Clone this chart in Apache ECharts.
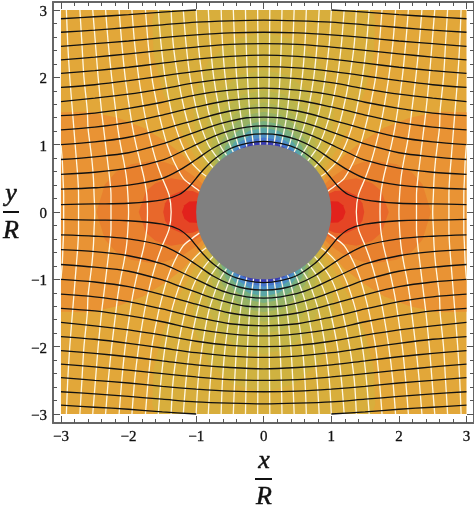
<!DOCTYPE html>
<html>
<head>
<meta charset="utf-8">
<script src="https://cdn.jsdelivr.net/npm/echarts@6/dist/echarts.min.js"></script>
<style>html,body{margin:0;padding:0;background:#fff}#main{width:474px;height:506px}#main canvas{filter:blur(0.4px)}</style>
</head>
<body>
<div id="main"></div>
<script>
// tick marks
var majorTicks = [-3, -2, -1, 0, 1, 2, 3];
var minorTicks = [-2.8, -2.6, -2.4, -2.2, -1.8, -1.6, -1.4, -1.2, -0.8, -0.6, -0.4, -0.2, 0.2, 0.4, 0.6, 0.8, 1.2, 1.4, 1.6, 1.8, 2.2, 2.4, 2.6, 2.8];

// black lines, y read at these x stations
var blackX = [-3, -2.5, -2, -1.5, -1, -0.5, 0, 0.5, 1, 1.5, 2, 2.5, 3];
var blackRows = [
  [2.87, 2.90, 2.93, 2.97, 3.00, null, null, null, 3.00, 2.97, 2.93, 2.90, 2.87],
  [2.67, 2.70, 2.74, 2.78, 2.82, 2.84, 2.85, 2.84, 2.82, 2.78, 2.74, 2.70, 2.67],
  [2.46, 2.50, 2.54, 2.59, 2.63, 2.66, 2.67, 2.66, 2.63, 2.59, 2.54, 2.50, 2.46],
  [2.26, 2.30, 2.35, 2.40, 2.45, 2.49, 2.50, 2.49, 2.45, 2.40, 2.35, 2.30, 2.26],
  [2.06, 2.10, 2.15, 2.21, 2.27, 2.31, 2.33, 2.31, 2.27, 2.21, 2.15, 2.10, 2.06],
  [1.85, 1.89, 1.95, 2.02, 2.09, 2.14, 2.16, 2.14, 2.09, 2.02, 1.95, 1.89, 1.85],
  [1.64, 1.69, 1.75, 1.83, 1.92, 1.98, 2.00, 1.98, 1.92, 1.83, 1.75, 1.69, 1.64],
  [1.43, 1.47, 1.54, 1.63, 1.74, 1.81, 1.84, 1.81, 1.74, 1.63, 1.54, 1.47, 1.43],
  [1.22, 1.26, 1.33, 1.44, 1.56, 1.66, 1.69, 1.66, 1.56, 1.44, 1.33, 1.26, 1.22],
  [1.00, 1.04, 1.11, 1.23, 1.37, 1.50, 1.55, 1.50, 1.37, 1.23, 1.11, 1.04, 1.00],
  [-2.87, -2.90, -2.93, -2.97, -3.00, null, null, null, -3.00, -2.97, -2.93, -2.90, -2.87],
  [-2.67, -2.70, -2.74, -2.78, -2.82, -2.84, -2.85, -2.84, -2.82, -2.78, -2.74, -2.70, -2.67],
  [-2.46, -2.50, -2.54, -2.59, -2.63, -2.66, -2.67, -2.66, -2.63, -2.59, -2.54, -2.50, -2.46],
  [-2.26, -2.30, -2.35, -2.40, -2.45, -2.49, -2.50, -2.49, -2.45, -2.40, -2.35, -2.30, -2.26],
  [-2.06, -2.10, -2.15, -2.21, -2.27, -2.31, -2.33, -2.31, -2.27, -2.21, -2.15, -2.10, -2.06],
  [-1.85, -1.89, -1.95, -2.02, -2.09, -2.14, -2.16, -2.14, -2.09, -2.02, -1.95, -1.89, -1.85],
  [-1.64, -1.69, -1.75, -1.83, -1.92, -1.98, -2.00, -1.98, -1.92, -1.83, -1.75, -1.69, -1.64],
  [-1.43, -1.47, -1.54, -1.63, -1.74, -1.81, -1.84, -1.81, -1.74, -1.63, -1.54, -1.47, -1.43],
  [-1.22, -1.26, -1.33, -1.44, -1.56, -1.66, -1.69, -1.66, -1.56, -1.44, -1.33, -1.26, -1.22],
  [-1.00, -1.04, -1.11, -1.23, -1.37, -1.50, -1.55, -1.50, -1.37, -1.23, -1.11, -1.04, -1.00]
];
// the lines closer to the axis bend harder, so more stations
var blackNearX = [-3, -2.5, -2, -1.5, -1.25, -1, -0.75, -0.5, -0.25, 0, 0.25, 0.5, 0.75, 1, 1.25, 1.5, 2, 2.5, 3];
var blackNearRows = [
  [0.78, 0.82, 0.88, 1.01, 1.10, 1.19, 1.28, 1.35, 1.40, 1.41, 1.40, 1.35, 1.28, 1.19, 1.10, 1.01, 0.88, 0.82, 0.78],
  [0.56, 0.59, 0.65, 0.77, 0.88, 1.00, 1.12, 1.21, 1.26, 1.28, 1.26, 1.21, 1.12, 1.00, 0.88, 0.77, 0.65, 0.59, 0.56],
  [0.34, 0.36, 0.40, 0.50, 0.62, 0.78, 0.95, 1.07, 1.14, 1.16, 1.14, 1.07, 0.95, 0.78, 0.62, 0.50, 0.40, 0.36, 0.34],
  [-0.78, -0.82, -0.88, -1.01, -1.10, -1.19, -1.28, -1.35, -1.40, -1.41, -1.40, -1.35, -1.28, -1.19, -1.10, -1.01, -0.88, -0.82, -0.78],
  [-0.56, -0.59, -0.65, -0.77, -0.88, -1.00, -1.12, -1.21, -1.26, -1.28, -1.26, -1.21, -1.12, -1.00, -0.88, -0.77, -0.65, -0.59, -0.56],
  [-0.34, -0.36, -0.40, -0.50, -0.62, -0.78, -0.95, -1.07, -1.14, -1.16, -1.14, -1.07, -0.95, -0.78, -0.62, -0.50, -0.40, -0.36, -0.34]
];
var blackHugX = [-3, -2.5, -2, -1.5, -1.25, -1.1, -1, -0.9, -0.75, -0.5, -0.25, 0, 0.25, 0.5, 0.75, 0.9, 1, 1.1, 1.25, 1.5, 2, 2.5, 3];
var blackHugRows = [
  [0.11, 0.12, 0.13, 0.18, 0.26, 0.38, 0.50, 0.62, 0.77, 0.94, 1.02, 1.05, 1.02, 0.94, 0.77, 0.62, 0.50, 0.38, 0.26, 0.18, 0.13, 0.12, 0.11],
  [-0.11, -0.12, -0.13, -0.18, -0.26, -0.38, -0.50, -0.62, -0.77, -0.94, -1.02, -1.05, -1.02, -0.94, -0.77, -0.62, -0.50, -0.38, -0.26, -0.18, -0.13, -0.12, -0.11]
];

// white lines that pass the cylinder, x read at these y stations
var whiteY = [3, 2.5, 2, 1.5, 1.25, 1, 0.75, 0.5, 0.25, 0, -0.25, -0.5, -0.75, -1, -1.25, -1.5, -2, -2.5, -3];
var whiteRows = [
  [1.95, 1.91, 1.85, 1.77, 1.72, 1.66, 1.59, 1.50, 1.40, 1.37, 1.40, 1.50, 1.59, 1.66, 1.72, 1.77, 1.85, 1.91, 1.95],
  [2.14, 2.10, 2.05, 1.98, 1.94, 1.89, 1.83, 1.77, 1.73, 1.72, 1.73, 1.77, 1.83, 1.89, 1.94, 1.98, 2.05, 2.10, 2.14],
  [2.34, 2.30, 2.25, 2.19, 2.16, 2.12, 2.07, 2.03, 2.01, 2.00, 2.01, 2.03, 2.07, 2.12, 2.16, 2.19, 2.25, 2.30, 2.34],
  [2.53, 2.49, 2.45, 2.40, 2.37, 2.34, 2.31, 2.28, 2.26, 2.26, 2.26, 2.28, 2.31, 2.34, 2.37, 2.40, 2.45, 2.49, 2.53],
  [2.72, 2.69, 2.66, 2.61, 2.60, 2.57, 2.54, 2.52, 2.51, 2.50, 2.51, 2.52, 2.54, 2.57, 2.60, 2.61, 2.66, 2.69, 2.72],
  [2.92, 2.90, 2.87, 2.83, 2.81, 2.79, 2.77, 2.75, 2.74, 2.74, 2.74, 2.75, 2.77, 2.79, 2.81, 2.83, 2.87, 2.90, 2.92],
  [null, null, null, null, null, 3.00, 2.98, 2.97, 2.96, 2.96, 2.96, 2.97, 2.98, 3.00, null, null, null, null, null],
  [-1.95, -1.91, -1.85, -1.77, -1.72, -1.66, -1.59, -1.50, -1.40, -1.37, -1.40, -1.50, -1.59, -1.66, -1.72, -1.77, -1.85, -1.91, -1.95],
  [-2.14, -2.10, -2.05, -1.98, -1.94, -1.89, -1.83, -1.77, -1.73, -1.72, -1.73, -1.77, -1.83, -1.89, -1.94, -1.98, -2.05, -2.10, -2.14],
  [-2.34, -2.30, -2.25, -2.19, -2.16, -2.12, -2.07, -2.03, -2.01, -2.00, -2.01, -2.03, -2.07, -2.12, -2.16, -2.19, -2.25, -2.30, -2.34],
  [-2.53, -2.49, -2.45, -2.40, -2.37, -2.34, -2.31, -2.28, -2.26, -2.26, -2.26, -2.28, -2.31, -2.34, -2.37, -2.40, -2.45, -2.49, -2.53],
  [-2.72, -2.69, -2.66, -2.61, -2.60, -2.57, -2.54, -2.52, -2.51, -2.50, -2.51, -2.52, -2.54, -2.57, -2.60, -2.61, -2.66, -2.69, -2.72],
  [-2.92, -2.90, -2.87, -2.83, -2.81, -2.79, -2.77, -2.75, -2.74, -2.74, -2.74, -2.75, -2.77, -2.79, -2.81, -2.83, -2.87, -2.90, -2.92],
  [null, null, null, null, null, -3.00, -2.98, -2.97, -2.96, -2.96, -2.96, -2.97, -2.98, -3.00, null, null, null, null, null]
];

// white lines that stop on the cylinder, as [x, y] runs per quadrant
var whiteTopRight = [
  [[0.09, 3], [0.08, 2], [0.07, 1.5], [0.06, 1.25], [0.05, 1]],
  [[0.27, 3], [0.26, 2.5], [0.24, 2], [0.21, 1.5], [0.185, 1.25], [0.15, 0.99]],
  [[0.45, 3], [0.43, 2.5], [0.40, 2], [0.35, 1.5], [0.31, 1.25], [0.25, 0.97]],
  [[0.63, 3], [0.61, 2.5], [0.57, 2], [0.50, 1.5], [0.445, 1.25], [0.38, 1], [0.35, 0.94]],
  [[0.82, 3], [0.79, 2.5], [0.74, 2], [0.655, 1.5], [0.59, 1.25], [0.50, 1], [0.45, 0.89]],
  [[1.00, 3], [0.97, 2.5], [0.91, 2], [0.82, 1.5], [0.745, 1.25], [0.65, 1], [0.55, 0.84]],
  [[1.19, 3], [1.15, 2.5], [1.09, 2], [0.99, 1.5], [0.92, 1.25], [0.82, 1], [0.72, 0.85], [0.65, 0.76]],
  [[1.37, 3], [1.34, 2.5], [1.27, 2], [1.17, 1.5], [1.10, 1.25], [1.00, 1], [0.87, 0.8], [0.75, 0.66]],
  [[1.56, 3], [1.52, 2.5], [1.46, 2], [1.37, 1.5], [1.30, 1.25], [1.21, 1], [1.08, 0.75], [0.94, 0.6], [0.85, 0.53]],
  [[1.75, 3], [1.71, 2.5], [1.655, 2], [1.56, 1.5], [1.50, 1.25], [1.43, 1], [1.33, 0.75], [1.19, 0.5], [1.07, 0.4], [0.95, 0.31]]
];
var whiteTopLeft = [
  [[-0.09, 3], [-0.08, 2], [-0.07, 1.5], [-0.06, 1.25], [-0.05, 1]],
  [[-0.27, 3], [-0.26, 2.5], [-0.24, 2], [-0.21, 1.5], [-0.185, 1.25], [-0.15, 0.99]],
  [[-0.45, 3], [-0.43, 2.5], [-0.40, 2], [-0.35, 1.5], [-0.31, 1.25], [-0.25, 0.97]],
  [[-0.63, 3], [-0.61, 2.5], [-0.57, 2], [-0.50, 1.5], [-0.445, 1.25], [-0.38, 1], [-0.35, 0.94]],
  [[-0.82, 3], [-0.79, 2.5], [-0.74, 2], [-0.655, 1.5], [-0.59, 1.25], [-0.50, 1], [-0.45, 0.89]],
  [[-1.00, 3], [-0.97, 2.5], [-0.91, 2], [-0.82, 1.5], [-0.745, 1.25], [-0.65, 1], [-0.55, 0.84]],
  [[-1.19, 3], [-1.15, 2.5], [-1.09, 2], [-0.99, 1.5], [-0.92, 1.25], [-0.82, 1], [-0.72, 0.85], [-0.65, 0.76]],
  [[-1.37, 3], [-1.34, 2.5], [-1.27, 2], [-1.17, 1.5], [-1.10, 1.25], [-1.00, 1], [-0.87, 0.8], [-0.75, 0.66]],
  [[-1.56, 3], [-1.52, 2.5], [-1.46, 2], [-1.37, 1.5], [-1.30, 1.25], [-1.21, 1], [-1.08, 0.75], [-0.94, 0.6], [-0.85, 0.53]],
  [[-1.75, 3], [-1.71, 2.5], [-1.655, 2], [-1.56, 1.5], [-1.50, 1.25], [-1.43, 1], [-1.33, 0.75], [-1.19, 0.5], [-1.07, 0.4], [-0.95, 0.31]]
];
var whiteBottomRight = [
  [[0.09, -3], [0.08, -2], [0.07, -1.5], [0.06, -1.25], [0.05, -1]],
  [[0.27, -3], [0.26, -2.5], [0.24, -2], [0.21, -1.5], [0.185, -1.25], [0.15, -0.99]],
  [[0.45, -3], [0.43, -2.5], [0.40, -2], [0.35, -1.5], [0.31, -1.25], [0.25, -0.97]],
  [[0.63, -3], [0.61, -2.5], [0.57, -2], [0.50, -1.5], [0.445, -1.25], [0.38, -1], [0.35, -0.94]],
  [[0.82, -3], [0.79, -2.5], [0.74, -2], [0.655, -1.5], [0.59, -1.25], [0.50, -1], [0.45, -0.89]],
  [[1.00, -3], [0.97, -2.5], [0.91, -2], [0.82, -1.5], [0.745, -1.25], [0.65, -1], [0.55, -0.84]],
  [[1.19, -3], [1.15, -2.5], [1.09, -2], [0.99, -1.5], [0.92, -1.25], [0.82, -1], [0.72, -0.85], [0.65, -0.76]],
  [[1.37, -3], [1.34, -2.5], [1.27, -2], [1.17, -1.5], [1.10, -1.25], [1.00, -1], [0.87, -0.8], [0.75, -0.66]],
  [[1.56, -3], [1.52, -2.5], [1.46, -2], [1.37, -1.5], [1.30, -1.25], [1.21, -1], [1.08, -0.75], [0.94, -0.6], [0.85, -0.53]],
  [[1.75, -3], [1.71, -2.5], [1.655, -2], [1.56, -1.5], [1.50, -1.25], [1.43, -1], [1.33, -0.75], [1.19, -0.5], [1.07, -0.4], [0.95, -0.31]]
];
var whiteBottomLeft = [
  [[-0.09, -3], [-0.08, -2], [-0.07, -1.5], [-0.06, -1.25], [-0.05, -1]],
  [[-0.27, -3], [-0.26, -2.5], [-0.24, -2], [-0.21, -1.5], [-0.185, -1.25], [-0.15, -0.99]],
  [[-0.45, -3], [-0.43, -2.5], [-0.40, -2], [-0.35, -1.5], [-0.31, -1.25], [-0.25, -0.97]],
  [[-0.63, -3], [-0.61, -2.5], [-0.57, -2], [-0.50, -1.5], [-0.445, -1.25], [-0.38, -1], [-0.35, -0.94]],
  [[-0.82, -3], [-0.79, -2.5], [-0.74, -2], [-0.655, -1.5], [-0.59, -1.25], [-0.50, -1], [-0.45, -0.89]],
  [[-1.00, -3], [-0.97, -2.5], [-0.91, -2], [-0.82, -1.5], [-0.745, -1.25], [-0.65, -1], [-0.55, -0.84]],
  [[-1.19, -3], [-1.15, -2.5], [-1.09, -2], [-0.99, -1.5], [-0.92, -1.25], [-0.82, -1], [-0.72, -0.85], [-0.65, -0.76]],
  [[-1.37, -3], [-1.34, -2.5], [-1.27, -2], [-1.17, -1.5], [-1.10, -1.25], [-1.00, -1], [-0.87, -0.8], [-0.75, -0.66]],
  [[-1.56, -3], [-1.52, -2.5], [-1.46, -2], [-1.37, -1.5], [-1.30, -1.25], [-1.21, -1], [-1.08, -0.75], [-0.94, -0.6], [-0.85, -0.53]],
  [[-1.75, -3], [-1.71, -2.5], [-1.655, -2], [-1.56, -1.5], [-1.50, -1.25], [-1.43, -1], [-1.33, -0.75], [-1.19, -0.5], [-1.07, -0.4], [-0.95, -0.31]]
];

// filled bands, outlines in axis units, painted in this order
var bandField = [[-3, -3], [3, -3], [3, 3], [-3, 3]];
var bandsTop = [
  [[-0.85, 0.53], [-0.91, 0.64], [-1.05, 0.88], [-1.26, 1.26], [-1.49, 1.77], [-1.63, 2.33], [-1.65, 2.86], [-1.6, 3], [1.6, 3], [1.65, 2.86], [1.63, 2.33], [1.49, 1.77], [1.26, 1.26], [1.05, 0.88], [0.91, 0.64], [0.85, 0.53]],
  [[-0.82, 0.57], [-0.885, 0.74], [-0.955, 0.955], [-1.016, 1.21], [-1.04, 1.49], [-1.017, 1.76], [-0.815, 2.24], [-0.45, 2.56], [0, 2.67], [0.45, 2.56], [0.815, 2.24], [1.017, 1.76], [1.04, 1.49], [1.016, 1.21], [0.955, 0.955], [0.885, 0.74], [0.82, 0.57]],
  [[-0.79, 0.61], [-0.84, 0.84], [-0.863, 1.03], [-0.826, 1.43], [-0.65, 1.79], [-0.358, 2.03], [0, 2.11], [0.358, 2.03], [0.65, 1.79], [0.826, 1.43], [0.863, 1.03], [0.84, 0.84], [0.79, 0.61]],
  [[-0.76, 0.65], [-0.773, 0.773], [-0.78, 0.93], [-0.726, 1.257], [-0.563, 1.548], [-0.308, 1.746], [0, 1.81], [0.308, 1.746], [0.563, 1.548], [0.726, 1.257], [0.78, 0.93], [0.773, 0.773], [0.76, 0.65]],
  [[-0.724, 0.69], [-0.723, 0.862], [-0.661, 1.145], [-0.508, 1.396], [-0.276, 1.566], [0, 1.63], [0.276, 1.566], [0.508, 1.396], [0.661, 1.145], [0.723, 0.862], [0.724, 0.69]],
  [[-0.69, 0.724], [-0.681, 0.812], [-0.615, 1.064], [-0.469, 1.287], [-0.254, 1.441], [0, 1.49], [0.254, 1.441], [0.469, 1.287], [0.615, 1.064], [0.681, 0.812], [0.69, 0.724]],
  [[-0.632, 0.775], [-0.564, 0.977], [-0.426, 1.171], [-0.23, 1.303], [0, 1.35], [0.23, 1.303], [0.426, 1.171], [0.564, 0.977], [0.632, 0.775]],
  [[-0.571, 0.821], [-0.528, 0.915], [-0.396, 1.088], [-0.213, 1.206], [0, 1.25], [0.213, 1.206], [0.396, 1.088], [0.528, 0.915], [0.571, 0.821]],
  [[-0.5, 0.866], [-0.373, 1.024], [-0.2, 1.131], [0, 1.17], [0.2, 1.131], [0.373, 1.024], [0.5, 0.866]],
  [[-0.42, 0.908], [-0.354, 0.973], [-0.189, 1.072], [0, 1.106], [0.189, 1.072], [0.354, 0.973], [0.42, 0.908]],
  [[-0.316, 0.949], [-0.18, 1.023], [0, 1.056], [0.18, 1.023], [0.316, 0.949]]
];
var bandsBottom = [
  [[-0.85, -0.53], [-0.91, -0.64], [-1.05, -0.88], [-1.26, -1.26], [-1.49, -1.77], [-1.63, -2.33], [-1.65, -2.86], [-1.6, -3], [1.6, -3], [1.65, -2.86], [1.63, -2.33], [1.49, -1.77], [1.26, -1.26], [1.05, -0.88], [0.91, -0.64], [0.85, -0.53]],
  [[-0.82, -0.57], [-0.885, -0.74], [-0.955, -0.955], [-1.016, -1.21], [-1.04, -1.49], [-1.017, -1.76], [-0.815, -2.24], [-0.45, -2.56], [0, -2.67], [0.45, -2.56], [0.815, -2.24], [1.017, -1.76], [1.04, -1.49], [1.016, -1.21], [0.955, -0.955], [0.885, -0.74], [0.82, -0.57]],
  [[-0.79, -0.61], [-0.84, -0.84], [-0.863, -1.03], [-0.826, -1.43], [-0.65, -1.79], [-0.358, -2.03], [0, -2.11], [0.358, -2.03], [0.65, -1.79], [0.826, -1.43], [0.863, -1.03], [0.84, -0.84], [0.79, -0.61]],
  [[-0.76, -0.65], [-0.773, -0.773], [-0.78, -0.93], [-0.726, -1.257], [-0.563, -1.548], [-0.308, -1.746], [0, -1.81], [0.308, -1.746], [0.563, -1.548], [0.726, -1.257], [0.78, -0.93], [0.773, -0.773], [0.76, -0.65]],
  [[-0.724, -0.69], [-0.723, -0.862], [-0.661, -1.145], [-0.508, -1.396], [-0.276, -1.566], [0, -1.63], [0.276, -1.566], [0.508, -1.396], [0.661, -1.145], [0.723, -0.862], [0.724, -0.69]],
  [[-0.69, -0.724], [-0.681, -0.812], [-0.615, -1.064], [-0.469, -1.287], [-0.254, -1.441], [0, -1.49], [0.254, -1.441], [0.469, -1.287], [0.615, -1.064], [0.681, -0.812], [0.69, -0.724]],
  [[-0.632, -0.775], [-0.564, -0.977], [-0.426, -1.171], [-0.23, -1.303], [0, -1.35], [0.23, -1.303], [0.426, -1.171], [0.564, -0.977], [0.632, -0.775]],
  [[-0.571, -0.821], [-0.528, -0.915], [-0.396, -1.088], [-0.213, -1.206], [0, -1.25], [0.213, -1.206], [0.396, -1.088], [0.528, -0.915], [0.571, -0.821]],
  [[-0.5, -0.866], [-0.373, -1.024], [-0.2, -1.131], [0, -1.17], [0.2, -1.131], [0.373, -1.024], [0.5, -0.866]],
  [[-0.42, -0.908], [-0.354, -0.973], [-0.189, -1.072], [0, -1.106], [0.189, -1.072], [0.354, -0.973], [0.42, -0.908]],
  [[-0.316, -0.949], [-0.18, -1.023], [0, -1.056], [0.18, -1.023], [0.316, -0.949]]
];
var bandsRight = [
  [[3, 1.48], [2.58, 1.49], [2.16, 1.40], [1.78, 1.25], [1.44, 1.04], [1.19, 0.84], [0.92, 0.53], [0.88, 0.47], [0.88, -0.47], [0.92, -0.53], [1.19, -0.84], [1.44, -1.04], [1.78, -1.25], [2.16, -1.40], [2.58, -1.49], [3, -1.48]],
  [[0.91, 0.42], [1.00, 0.51], [1.19, 0.64], [1.46, 0.74], [1.64, 0.76], [1.96, 0.71], [2.19, 0.59], [2.35, 0.41], [2.475, 0], [2.35, -0.41], [2.19, -0.59], [1.96, -0.71], [1.64, -0.76], [1.46, -0.74], [1.19, -0.64], [1.00, -0.51], [0.91, -0.42]],
  [[0.935, 0.353], [1.10, 0.455], [1.37, 0.50], [1.60, 0.43], [1.74, 0.31], [1.85, 0], [1.74, -0.31], [1.60, -0.43], [1.37, -0.50], [1.10, -0.455], [0.935, -0.353]],
  [[0.96, 0.27], [1.05, 0.31], [1.205, 0.32], [1.38, 0.24], [1.46, 0.13], [1.487, 0], [1.46, -0.13], [1.38, -0.24], [1.205, -0.32], [1.05, -0.31], [0.96, -0.27]],
  [[0.987, 0.158], [1.10, 0.155], [1.174, 0.10], [1.21, 0], [1.174, -0.10], [1.10, -0.155], [0.987, -0.158]]
];
var bandsLeft = [
  [[-3, 1.48], [-2.58, 1.49], [-2.16, 1.40], [-1.78, 1.25], [-1.44, 1.04], [-1.19, 0.84], [-0.92, 0.53], [-0.88, 0.47], [-0.88, -0.47], [-0.92, -0.53], [-1.19, -0.84], [-1.44, -1.04], [-1.78, -1.25], [-2.16, -1.40], [-2.58, -1.49], [-3, -1.48]],
  [[-0.91, 0.42], [-1.00, 0.51], [-1.19, 0.64], [-1.46, 0.74], [-1.64, 0.76], [-1.96, 0.71], [-2.19, 0.59], [-2.35, 0.41], [-2.475, 0], [-2.35, -0.41], [-2.19, -0.59], [-1.96, -0.71], [-1.64, -0.76], [-1.46, -0.74], [-1.19, -0.64], [-1.00, -0.51], [-0.91, -0.42]],
  [[-0.935, 0.353], [-1.10, 0.455], [-1.37, 0.50], [-1.60, 0.43], [-1.74, 0.31], [-1.85, 0], [-1.74, -0.31], [-1.60, -0.43], [-1.37, -0.50], [-1.10, -0.455], [-0.935, -0.353]],
  [[-0.96, 0.27], [-1.05, 0.31], [-1.205, 0.32], [-1.38, 0.24], [-1.46, 0.13], [-1.487, 0], [-1.46, -0.13], [-1.38, -0.24], [-1.205, -0.32], [-1.05, -0.31], [-0.96, -0.27]],
  [[-0.987, 0.158], [-1.10, 0.155], [-1.174, 0.10], [-1.21, 0], [-1.174, -0.10], [-1.10, -0.155], [-0.987, -0.158]]
];
var cylinderRadius = 1;

var fieldColor = '#e2a739';
var topColors = ['#d8ae3c', '#cfb240', '#c5b546', '#bab64c', '#adb554', '#97b264', '#78af80', '#5aa6a6', '#4e8fc4', '#4674cc', '#3a3cb2'];
var sideColors = ['#e99334', '#e8812e', '#e8682b', '#e54525', '#e2221c'];

function zipX(xs, row) { return xs.map(function (x, i) { return [x, row[i]]; }); }
function zipY(ys, row) { return ys.map(function (y, i) { return [row[i], y]; }); }

function lineSeries(points, color, width) {
  return {
    type: 'line', data: points, showSymbol: false, smooth: 0.3, silent: true,
    connectNulls: false, lineStyle: { color: color, width: width }, z: color === '#111' ? 4 : 3
  };
}

var polys = [bandField].concat(bandsTop, bandsBottom, bandsRight, bandsLeft);
var colors = [fieldColor].concat(topColors, topColors, sideColors, sideColors);

var series = [{
  type: 'custom', silent: true, z: 1, clip: false,
  data: polys.map(function (p, i) { return [0, 0, i]; }),
  renderItem: function (params, api) {
    return {
      type: 'polygon',
      shape: { points: polys[params.dataIndex].map(function (p) { return api.coord(p); }) },
      style: { fill: colors[params.dataIndex] }
    };
  }
}];

var whites = whiteRows.map(function (r) { return zipY(whiteY, r); })
  .concat(whiteTopRight, whiteTopLeft, whiteBottomRight, whiteBottomLeft);
whites.forEach(function (w) { series.push(lineSeries(w, '#fff8e2', 1.3)); });

var blacks = blackRows.map(function (r) { return zipX(blackX, r); })
  .concat(blackNearRows.map(function (r) { return zipX(blackNearX, r); }))
  .concat(blackHugRows.map(function (r) { return zipX(blackHugX, r); }));
blacks.forEach(function (b) { series.push(lineSeries(b, '#111', 1.3)); });

series.push({
  type: 'custom', silent: true, z: 5, clip: false,
  data: [[0, 0, cylinderRadius]],
  renderItem: function (params, api) {
    var c = api.coord([api.value(0), api.value(1)]);
    var s = api.size([api.value(2), api.value(2)]);
    return {
      type: 'ellipse',
      shape: { cx: c[0], cy: c[1], rx: s[0], ry: s[1] },
      style: { fill: '#808080' }
    };
  }
});

var tickColor = '#555';
var labelFont = { fontFamily: 'Liberation Serif', fontSize: 15, color: '#111', textBorderColor: '#111', textBorderWidth: 0.3 };
function fmt(v) { return String(v).replace('-', '\u2212'); }
// y labels sit a little under their ticks in the reference
function fmtY(v) { return '{n|' + fmt(v) + '}'; }

function axis(dim, pos, ticks, len, main, labelled) {
  var label = Object.assign({ show: labelled, customValues: ticks, formatter: dim === 'x' ? fmt : fmtY, margin: dim === 'x' ? 7 : 6 }, labelFont);
  if (dim === 'y') {
    label.rich = { n: Object.assign({ padding: [4, 0, 0, 0] }, labelFont) };
  }
  return {
    type: 'value', position: pos,
    min: dim === 'x' ? -3.118 : -3.134,
    max: dim === 'x' ? 3.111 : 3.119,
    splitLine: { show: false },
    axisLine: { show: main, onZero: false, lineStyle: { color: '#666', width: 2 } },
    axisTick: { show: true, inside: true, length: len, customValues: ticks, lineStyle: { color: tickColor, width: 1 } },
    axisLabel: label
  };
}

var fracFont = 'italic 26px "Liberation Serif"';
function frac(ch, x, y) {
  return { type: 'text', x: x, y: y, style: { text: ch, font: fracFont, fill: '#111', stroke: '#111', lineWidth: 0.5, align: 'center', verticalAlign: 'middle' } };
}

var option = {
  animation: false,
  backgroundColor: '#fff',
  grid: { left: 53, right: -0.5, top: 2, bottom: 83 },
  xAxis: [
    axis('x', 'bottom', majorTicks, 7, true, true),
    axis('x', 'bottom', minorTicks, 4, false, false),
    axis('x', 'top', majorTicks, 7, true, false),
    axis('x', 'top', minorTicks, 4, false, false)
  ],
  yAxis: [
    axis('y', 'left', majorTicks, 7, true, true),
    axis('y', 'left', minorTicks, 4, false, false),
    axis('y', 'right', majorTicks, 7, true, false),
    axis('y', 'right', minorTicks, 4, false, false)
  ],
  graphic: [
    frac('x', 264, 461),
    { type: 'rect', shape: { x: 255, y: 478, width: 17, height: 2 }, style: { fill: '#111' } },
    frac('R', 264, 497),
    frac('y', 11, 194),
    { type: 'rect', shape: { x: 3, y: 211, width: 16, height: 2 }, style: { fill: '#111' } },
    frac('R', 11, 231)
  ],
  series: series
};

var myChart = echarts.init(document.getElementById('main'));
myChart.setOption(option);
</script>
</body>
</html>
